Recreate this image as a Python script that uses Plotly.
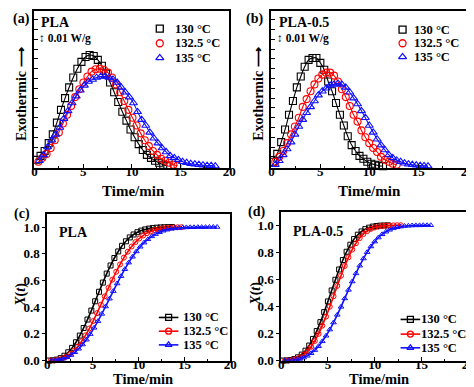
import plotly.graph_objects as go

# ---------------- data ----------------
# (a) PLA heat flow (a.u., 1 unit = 0.001 W/g)
a_t130 = [0.2,0.62,1.04,1.46,1.88,2.3,2.72,3.14,3.56,3.98,4.4,4.82,5.24,5.66,6.08,6.5,6.92,7.34,7.76,8.18,8.6,9.02,9.44,9.86,10.28,10.7,11.12,11.54,11.96,12.38,12.8,13.22,13.64]
a_h130 = [7,11,16,24,33,45,58,70,81,91,100,107,112,114,113,109,103,95,86,76,66,56,47,38,30,23,17,12,9,6,4,2,1]
a_t1325 = [0.4,0.82,1.24,1.66,2.08,2.5,2.92,3.34,3.76,4.18,4.6,5.02,5.44,5.86,6.28,6.7,7.12,7.54,7.96,8.38,8.8,9.22,9.64,10.06,10.48,10.9,11.32,11.74,12.16,12.58,13.0,13.42,13.84,14.26,14.68]
a_h1325 = [5,9,13,19,27,35,44,53,62,71,79,86,92,97,99.5,100,99,96,91,84,76,67,58,50,42,34,27,21,16,12,8,6,4,2,1]
a_t135 = [0.5,0.92,1.34,1.76,2.18,2.6,3.02,3.44,3.86,4.28,4.7,5.12,5.54,5.96,6.38,6.8,7.22,7.64,8.06,8.48,8.9,9.32,9.74,10.16,10.58,11.0,11.42,11.84,12.26,12.68,13.1,13.52,13.94,14.36,14.78,15.2,15.62,16.04,16.46,16.88,17.3,17.72,18.14,18.56]
a_h135 = [6,12,20,27,33,40,49,57,65,72,78,83,87,89,91,92,92,91,89,86,81,76,71,65,56,48,42,35,29,24,19,15,11,9,7,5,4,3,2.5,2,1.5,1,1,0.5]

# (b) PLA-0.5 heat flow
b_t130 = [0.2,0.6,1.0,1.4,1.8,2.2,2.6,3.0,3.4,3.8,4.2,4.6,5.0,5.4,5.8,6.2,6.6,7.0,7.4,7.8,8.2,8.6,9.0,9.4,9.8,10.2,10.6,11.0,11.4]
b_h130 = [5,13,25,38,53,67,81,92,102,109,111,111,106,99,87,77,65,53,42,31,22,16,11,8,5,3,2,1,0.5]
b_t1325 = [0.4,0.8,1.2,1.6,2.0,2.4,2.8,3.2,3.6,4.0,4.4,4.8,5.2,5.6,6.0,6.4,6.8,7.2,7.6,8.0,8.4,8.8,9.2,9.6,10.0,10.4,10.8,11.2,11.6,12.0,12.4,12.8]
b_h1325 = [5,10,16,24,33,41,50,61,69,77,84,90,94,96,96,93,87,79,71,62,53,46,37,30,24,19,15,10,7,5,3,2]
b_t135 = [0.4,0.8,1.2,1.6,2.0,2.4,2.8,3.2,3.6,4.0,4.4,4.8,5.2,5.6,6.0,6.4,6.8,7.2,7.6,8.0,8.4,8.8,9.2,9.6,10.0,10.4,10.8,11.2,11.6,12.0,12.4,12.8,13.2,13.6,14.0,14.4,14.8,15.2,15.6,16.0]
b_h135 = [2,6,12,18,25,33,41,48,55,61,67,73,77,80,83,84,85,84,81,76,70,64,57,50,42,35,28,22,17,12,9,6.5,5,3.5,2.5,2,1.5,1,0.8,0.5]

# (c) PLA relative crystallinity X(t)
c_x130 = [0.0001,0.002,0.007,0.018,0.036,0.062,0.095,0.137,0.187,0.244,0.307,0.374,0.444,0.515,0.584,0.651,0.712,0.768,0.817,0.859,0.893,0.922,0.944,0.961,0.973,0.982,0.988,0.992,0.995,0.997,0.998,0.999,1.0]
c_x1325 = [0.0003,0.002,0.007,0.016,0.029,0.049,0.074,0.106,0.145,0.189,0.240,0.296,0.355,0.418,0.481,0.545,0.606,0.665,0.720,0.771,0.815,0.854,0.887,0.914,0.936,0.954,0.967,0.977,0.984,0.989,0.993,0.995,0.997,0.998,0.999]
c_x135 = [0.0004,0.002,0.007,0.014,0.025,0.041,0.062,0.088,0.120,0.156,0.198,0.245,0.295,0.349,0.405,0.463,0.520,0.577,0.632,0.684,0.733,0.777,0.817,0.852,0.883,0.908,0.930,0.947,0.961,0.972,0.980,0.986,0.990,0.993,0.995,0.997,0.998,0.998,0.999,0.999,0.999,1.0,1.0,1.0]

# (d) PLA-0.5 relative crystallinity X(t)
d_x130 = [0.0,0.001,0.004,0.011,0.024,0.044,0.073,0.111,0.160,0.218,0.284,0.358,0.437,0.518,0.597,0.673,0.743,0.804,0.856,0.898,0.930,0.954,0.971,0.982,0.990,0.994,0.997,0.998,0.999]
d_x1325 = [0.0,0.001,0.005,0.012,0.024,0.042,0.068,0.102,0.145,0.197,0.258,0.325,0.398,0.475,0.552,0.627,0.699,0.763,0.820,0.867,0.905,0.935,0.957,0.973,0.983,0.990,0.994,0.997,0.998,0.999,1.0,1.0]
d_x135 = [0.0,0.001,0.002,0.006,0.012,0.022,0.035,0.054,0.077,0.106,0.142,0.183,0.229,0.281,0.338,0.397,0.459,0.522,0.584,0.644,0.701,0.754,0.801,0.843,0.879,0.909,0.933,0.952,0.966,0.977,0.985,0.990,0.994,0.996,0.998,0.999,0.999,1.0,1.0,1.0]

temps = ["130 °C", "132.5 °C", "135 °C"]
colors = ["#000000", "#ff0000", "#1010ff"]
symbols = ["square-open", "circle-open", "triangle-up-open"]
x_ticks = [0, 5, 10, 15, 20]
y_ticks_x = [0, 0.2, 0.4, 0.6, 0.8, 1.0]

FONT = "Liberation Serif"

fig = go.Figure()

panels = [
    ("x", "y", [(a_t130, a_h130), (a_t1325, a_h1325), (a_t135, a_h135)], "top"),
    ("x2", "y2", [(b_t130, b_h130), (b_t1325, b_h1325), (b_t135, b_h135)], "top"),
    ("x3", "y3", [(a_t130, c_x130), (a_t1325, c_x1325), (a_t135, c_x135)], "bot"),
    ("x4", "y4", [(b_t130, d_x130), (b_t1325, d_x1325), (b_t135, d_x135)], "bot"),
]

for pi, (xa, ya, series, kind) in enumerate(panels):
    for i, (xs, ys) in enumerate(series):
        if kind == "top":
            fig.add_trace(go.Scatter(
                x=xs, y=ys, xaxis=xa, yaxis=ya, mode="lines",
                line=dict(color=colors[i], width=1.1, shape="spline"),
                showlegend=False, hoverinfo="skip"))
            fig.add_trace(go.Scatter(
                x=xs, y=ys, xaxis=xa, yaxis=ya, mode="markers", name=temps[i],
                marker=dict(symbol=symbols[i], size=7, color=colors[i],
                            line=dict(width=1.1, color=colors[i])),
                showlegend=False, cliponaxis=False))
        else:
            fig.add_trace(go.Scatter(
                x=xs, y=ys, xaxis=xa, yaxis=ya, mode="lines+markers", name=temps[i],
                line=dict(color=colors[i], width=1.6, shape="spline"),
                marker=dict(symbol=symbols[i], size=5, color=colors[i],
                            line=dict(width=1.0, color=colors[i])),
                showlegend=False, cliponaxis=False))

axis_common = dict(showline=True, linewidth=1.6, linecolor="black", mirror=True,
                   showgrid=False, zeroline=False,
                   tickfont=dict(family=FONT, size=13, color="black"))

def xax(domain, anchor):
    return dict(domain=domain, anchor=anchor, range=[0, 20], tickvals=x_ticks,
                ticktext=["<b>%d</b>" % v for v in x_ticks],
                ticks="inside", ticklen=4, tickwidth=1.2, tickcolor="black",
                ticklabelstandoff=-9,
                minor=dict(dtick=2.5, ticks="inside", ticklen=2, tickcolor="black"),
                **axis_common)

def yax_x(domain, anchor):
    return dict(domain=domain, anchor=anchor, range=[0, 1.1], tickvals=y_ticks_x,
                ticktext=["<b>%.1f</b>" % v for v in y_ticks_x],
                ticks="outside", ticklen=3, tickcolor="black", **axis_common)

def yax_h(domain, anchor):
    return dict(domain=domain, anchor=anchor, range=[-1, 159], dtick=10,
                ticks="inside", ticklen=4, tickcolor="black", showticklabels=False, **axis_common)

fig.update_layout(
    width=474, height=387, margin=dict(l=0, r=0, t=0, b=0),
    paper_bgcolor="white", plot_bgcolor="rgba(0,0,0,0)",
    font=dict(family=FONT, color="black"),
    xaxis=xax([24/474, 223/474], "y"),
    xaxis2=xax([266/474, 466/474], "y2"),
    xaxis3=xax([37/474, 224/474], "y3"),
    xaxis4=xax([276/474, 467/474], "y4"),
    yaxis=yax_h([1-163/387, 1-3/387], "x"),
    yaxis2=yax_h([1-163/387, 1-3/387], "x2"),
    yaxis3=yax_x([1-360/387, 1-210/387], "x3"),
    yaxis4=yax_x([1-360/387, 1-208/387], "x4"),
    # overlay axes (pixel coordinates) used only for the legend keys
    xaxis5=dict(domain=[0, 1], range=[0, 474], visible=False, anchor="y5", fixedrange=True),
    yaxis5=dict(domain=[0, 1], range=[387, 0], visible=False, anchor="x5", fixedrange=True),
)

ann = []
def add_text(x, y, text, size=14, angle=0, xanchor="left"):
    ann.append(dict(x=x/474, y=1-y/387, xref="paper", yref="paper", text=text, showarrow=False,
                    xanchor=xanchor, yanchor="middle", textangle=angle,
                    font=dict(family=FONT, size=size, color="black")))

# panel labels
add_text(0, 11, "<b>(a)</b>", 14)
add_text(238, 11, "<b>(b)</b>", 14)
add_text(1, 210, "<b>(c)</b>", 14)
add_text(240, 208, "<b>(d)</b>", 14)
# sample names
add_text(29, 15, "<b>PLA</b>", 14)
add_text(272, 15, "<b>PLA-0.5</b>", 14)
add_text(47, 229, "<b>PLA</b>", 14)
add_text(286, 228, "<b>PLA-0.5</b>", 14)
# scale bars
add_text(27, 31, "<b>↕ 0.01 W/g</b>", 11.5)
add_text(270, 31, "<b>↕ 0.01 W/g</b>", 11.5)
# axis titles
add_text(10, 88, "<b>Exothermic ⟶</b>", 14, angle=-90, xanchor="center")
add_text(252, 88, "<b>Exothermic ⟶</b>", 14, angle=-90, xanchor="center")
add_text(10, 293, "<b><i>X</i>(<i>t</i>)</b>", 14, angle=-90, xanchor="center")
add_text(250, 292, "<b><i>X</i>(<i>t</i>)</b>", 14, angle=-90, xanchor="center")
add_text(125, 187, "<b>Time/min</b>", 15, xanchor="center")
add_text(366, 187, "<b>Time/min</b>", 15, xanchor="center")
add_text(135, 379, "<b>Time/min</b>", 14.5, xanchor="center")
add_text(376, 379, "<b>Time/min</b>", 14.5, xanchor="center")

# legends
leg_specs = [
    (152, 165, [21, 36, 51], False),
    (400, 410, [22, 36, 50], False),
    (161, 174, [316, 330, 344], True),
    (408, 417, [318, 333, 347], True),
]
for (mx, tx, ys, withline) in leg_specs:
    for i, yy in enumerate(ys):
        if withline:
            fig.add_trace(go.Scatter(x=[mx - 10, mx + 10], y=[yy, yy], xaxis="x5", yaxis="y5", mode="lines",
                                     line=dict(color=colors[i], width=1.6), showlegend=False, hoverinfo="skip"))
        fig.add_trace(go.Scatter(x=[mx], y=[yy], xaxis="x5", yaxis="y5", mode="markers",
                                 marker=dict(symbol=symbols[i], size=7 if not withline else 6, color=colors[i],
                                             line=dict(width=1.3, color=colors[i])),
                                 showlegend=False, hoverinfo="skip", cliponaxis=False))
        add_text(tx, yy, "<b>%s</b>" % temps[i], 12.5)

fig.update_layout(annotations=ann)
fig.write_html("out.html")
